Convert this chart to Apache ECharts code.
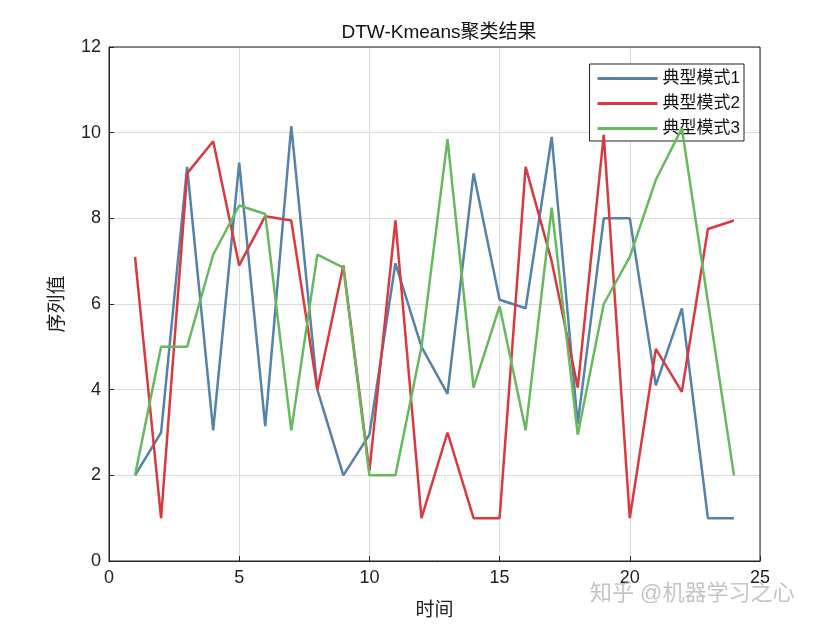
<!DOCTYPE html>
<html>
<head>
<meta charset="utf-8">
<script src="https://cdn.jsdelivr.net/npm/echarts@6/dist/echarts.min.js"></script>
<style>html,body{margin:0;padding:0;background:#fff}#main{width:840px;height:630px}</style>
</head>
<body>
<div id="main"></div>
<script>
var xs = [1,2,3,4,5,6,7,8,9,10,11,12,13,14,15,16,17,18,19,20,21,22,23,24];
var mode1 = [2,3,9.2,3.05,9.3,3.15,10.15,4,2,2.95,6.95,5,3.9,9.05,6.1,5.9,9.9,3.2,8.0,8.0,4.1,5.9,1.0,1.0];
var mode2 = [7.1,1.0,9.05,9.8,6.9,8.05,7.95,4.0,6.9,2.1,7.95,1.0,3.0,1.0,1.0,9.2,7.0,4.05,9.95,1.0,4.95,3.95,7.75,7.95];
var mode3 = [2.0,5.0,5.0,7.15,8.3,8.1,3.05,7.15,6.85,2.0,2.0,5.0,9.85,4.05,5.95,3.05,8.25,2.95,6.0,7.1,8.9,10.1,6.05,2.0];
var names = ['典型模式1','典型模式2','典型模式3'];
var colors = ['#5482a8','#d9393f','#67b95e'];

function pairs(arr){ return arr.map(function(v,i){ return [xs[i], v]; }); }

var chart = echarts.init(document.getElementById('main'));
var font = 'Arial, "Noto Sans CJK SC", sans-serif';
var axisCommon = {
    axisLine: {show: true, onZero: false, lineStyle: {color: '#222', width: 1}},
    axisTick: {show: true, inside: true, length: 5, lineStyle: {color: '#222'}},
    axisLabel: {color: '#222', fontSize: 18, fontFamily: font},
    splitLine: {show: true, lineStyle: {color: '#dcdcdc'}}
};
chart.setOption({
    animation: false,
    color: colors,
    title: {
        text: 'DTW-Kmeans聚类结果',
        left: 434, top: 18, textAlign: 'center',
        textStyle: {fontSize: 19, fontWeight: 'normal', color: '#111', fontFamily: font}
    },
    legend: {
        data: names,
        orient: 'vertical',
        right: 96, top: 64,
        itemWidth: 60, itemHeight: 3, itemGap: 8,
        padding: [6, 4, 4, 8],
        borderColor: '#222', borderWidth: 1, borderRadius: 0,
        backgroundColor: '#fff',
        icon: 'rect',
        textStyle: {fontSize: 17, color: '#111', fontFamily: font}
    },
    grid: {left: 109, right: 80, top: 47, bottom: 69},
    xAxis: Object.assign({
        type: 'value', min: 0, max: 25, interval: 5,
        name: '时间', nameLocation: 'middle', nameGap: 40,
        nameTextStyle: {fontSize: 19, color: '#222', fontFamily: font}
    }, axisCommon),
    yAxis: Object.assign({
        type: 'value', min: 0, max: 12, interval: 2,
        name: '序列值', nameLocation: 'middle', nameGap: 42,
        nameTextStyle: {fontSize: 19, color: '#222', fontFamily: font}
    }, axisCommon),
    series: [
        {name: names[0], type: 'line', data: pairs(mode1), showSymbol: false, lineStyle: {width: 2.5}, z: 3},
        {name: names[1], type: 'line', data: pairs(mode2), showSymbol: false, lineStyle: {width: 2.5}, z: 4},
        {name: names[2], type: 'line', data: pairs(mode3), showSymbol: false, lineStyle: {width: 2.5}, z: 5}
    ],
    graphic: [
        {type: 'rect', shape: {x: 109, y: 47, width: 651, height: 514}, style: {fill: 'none', stroke: '#222', lineWidth: 1}, z: 10, silent: true},
        {type: 'text', left: 590, top: 583, style: {text: '知乎 @机器学习之心', fill: 'rgba(190,190,190,0.9)', fontSize: 22, fontFamily: font}, z: 20}
    ]
});
</script>
</body>
</html>
